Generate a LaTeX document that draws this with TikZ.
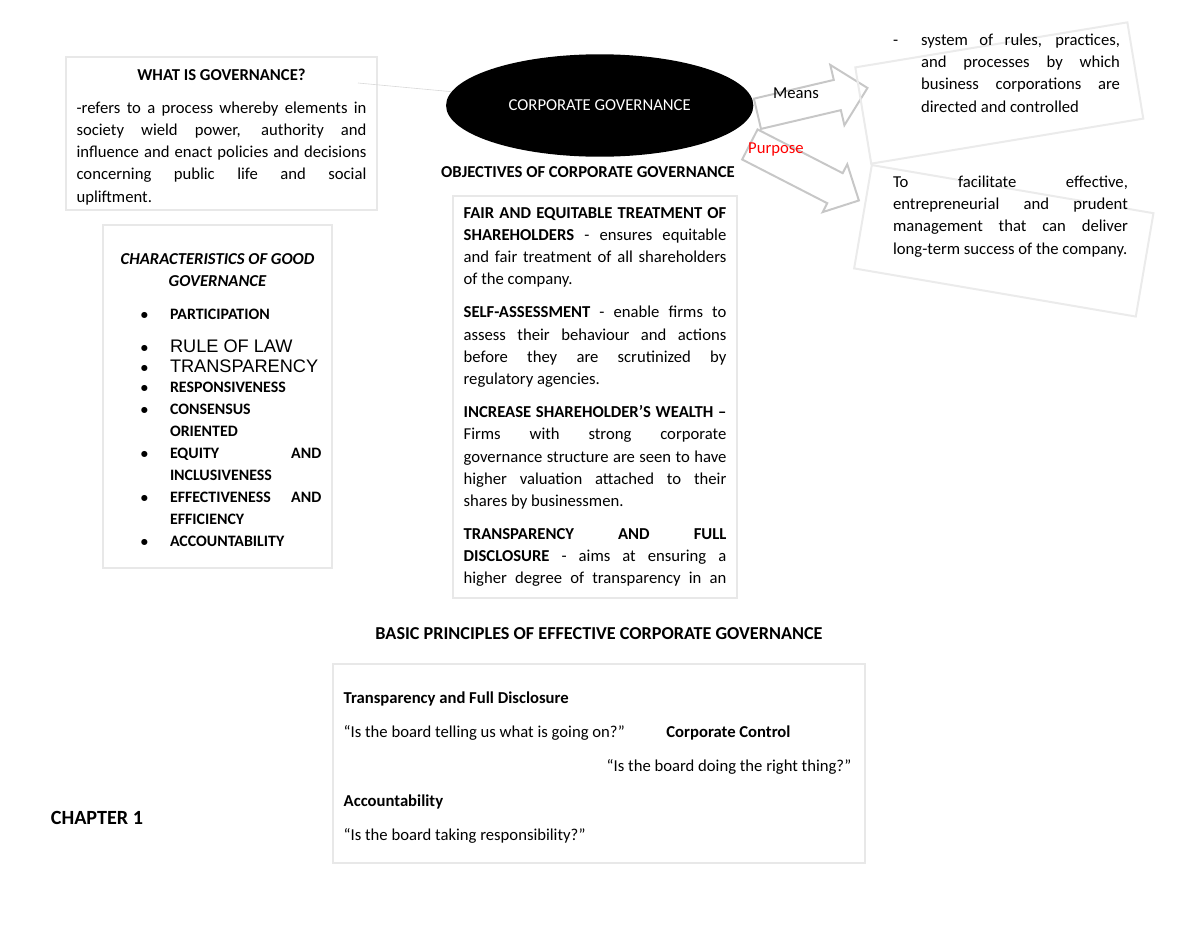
\documentclass[tikz,border=0pt]{standalone}
\usepackage{fontspec}
\setmainfont{Carlito}
\newfontfamily\arialfont{Liberation Sans}
\usetikzlibrary{shapes.geometric,shapes.arrows,positioning,calc}
\setlength{\parindent}{0pt}
\setlength{\parskip}{0pt}
\hyphenpenalty=10000
\exhyphenpenalty=10000
\hbadness=10000
\hfuzz=20pt
\tikzset{
	infobox/.style={
		rectangle, draw=black!9, line width=1.3pt, inner xsep=7pt, inner ysep=0pt,
		align=justify, font=\fontsize{11}{14.7}\selectfont
	},
	%
	tiltbox/.style={
		rectangle, draw=black!8, line width=1.3pt, inner sep=0pt
	},
	%
	tilttext/.style={
		inner sep=0pt, align=justify, font=\fontsize{11}{14.7}\selectfont
	},
	%
	blockarrow/.style={
		single arrow, draw=black!22, line width=1.3pt, fill=white,
		inner xsep=0pt, anchor=tail
	},
	%
	heading/.style={
		inner sep=0pt, font=\fontsize{11}{13}\selectfont\bfseries
	},
	%
	armtext/.style={
		inner sep=0pt, font=\fontsize{11}{13}\selectfont
	}
}
\newcommand{\chitem}{\par\noindent\llap{{\rmfamily\bfseries\fontsize{9.5}{9.5}\selectfont\textbullet}\hspace{14.5pt}}}
\newcommand{\topstrut}{\rule{0pt}{12pt}}

\begin{document}
\begin{tikzpicture}[x=0.66pt, y=-0.66pt]
    \useasboundingbox[fill=white] (0,0) rectangle (1200,927);
    % centre of the map
    \node (cg) [ellipse, fill=black, text=white, minimum width=202.8pt, minimum height=67.6pt,
        font=\fontsize{11}{13}\selectfont] at (599.7,105.5) {CORPORATE GOVERNANCE};
    \node (govbox) [infobox, text width=191.3pt, minimum height=101pt] at (221.5,133.5) {
    {\centering\bfseries\topstrut WHAT IS GOVERNANCE?\par}
    \vspace{7pt}
    -refers to a process whereby elements in\linebreak
    society wield power, authority and\linebreak
    influence and enact policies and decisions\linebreak
    concerning public life and social\linebreak
    upliftment.\par
    };
    \coordinate (govtip) at (358,83);
    \draw[black!15, thin] (govtip) -- (cg);
    \node (charbox) [infobox, text width=137.1pt, minimum height=226.4pt] at (217.5,396.5) {
    {\centering\bfseries\itshape\fontsize{11}{14.5}\selectfont\topstrut CHARACTERISTICS OF GOOD\\ GOVERNANCE\par}
    \leftskip=37.2pt
    {\fontsize{10.5}{21.8}\selectfont\bfseries\chitem PARTICIPATION\par}
    {\arialfont\fontsize{12}{21.5}\selectfont\chitem RULE OF LAW\par}
    {\arialfont\fontsize{12}{13.2}\selectfont\chitem TRANSPARENCY\par}
    {\fontsize{10.5}{13.5}\selectfont\bfseries\chitem RESPONSIVENESS\par}
    {\fontsize{10.5}{14.5}\selectfont\bfseries
    \chitem CONSENSUS\linebreak ORIENTED
    \chitem EQUITY AND\linebreak INCLUSIVENESS
    \chitem EFFECTIVENESS AND\linebreak EFFICIENCY
    \chitem ACCOUNTABILITY\par}
    };
    % objectives
    \node (objhead) [heading] at (588,172) {OBJECTIVES OF CORPORATE GOVERNANCE};
    \node (objbox) [infobox, text width=173.4pt, minimum height=265.3pt] at (595,397) {
    \parskip=7pt
    \textbf{FAIR AND EQUITABLE TREATMENT OF}\linebreak
    \textbf{SHAREHOLDERS} - ensures equitable\linebreak
    and fair treatment of all shareholders\linebreak
    of the company.\par
    \textbf{SELF-ASSESSMENT} - enable firms to\linebreak
    assess their behaviour and actions\linebreak
    before they are scrutinized by\linebreak
    regulatory agencies.\par
    \textbf{INCREASE SHAREHOLDER’S WEALTH –}\linebreak
    Firms with strong corporate\linebreak
    governance structure are seen to have\linebreak
    higher valuation attached to their\linebreak
    shares by businessmen.\par
    {\parfillskip=0pt \textbf{TRANSPARENCY AND FULL}\linebreak
    \textbf{DISCLOSURE} - aims at ensuring a\linebreak
    higher degree of transparency in an\par}
    };
    % means and purpose
    \node (meansarrow) [blockarrow, rotate=13.2, minimum height=74.6pt, inner ysep=9.6pt,
        single arrow head extend=10.2pt] at (756.5,114) {};
    \node (purposearrow) [blockarrow, rotate=-27.2, minimum height=80.9pt, inner ysep=10.5pt,
        single arrow head extend=6.6pt] at (749,144) {};
    \node (means) [armtext] at (796,93) {Means};
    \node (purpose) [armtext, text=red] at (776,149) {Purpose};
    \node (meansbox) [tiltbox, rotate=9.4, minimum width=182pt, minimum height=64.4pt] at (999.3,93) {};
    \node (purposebox) [tiltbox, rotate=-9.7, minimum width=188.6pt, minimum height=69.2pt] at (1003.8,240.8) {};
    \node (meanstext) [tilttext, text width=149.8pt] at (1006.5,73) {
    \leftskip=18.5pt
    \noindent\llap{\makebox[18.5pt][l]{-}}system of rules, practices,\linebreak
    and processes by which\linebreak
    business corporations are\linebreak
    directed and controlled\par
    };
    \node (purposetext) [tilttext, text width=155pt] at (1010.5,216.5) {
    To facilitate effective,\linebreak
    entrepreneurial and prudent\linebreak
    management that can deliver\linebreak
    long-term success of the company.\par
    };
    % principles
    \node (principles) [infobox, text width=337pt, minimum height=131.3pt,
        font=\fontsize{11}{22.7}\selectfont] at (599,763.5) {
    \rule{0pt}{13pt}\textbf{Transparency and Full Disclosure}\\
    \makebox[213pt][l]{“Is the board telling us what is going on?”}\textbf{Corporate Control}\\
    \hspace*{173.6pt}\makebox[0pt][l]{“Is the board doing the right thing?”}\\
    \textbf{Accountability}\\
    “Is the board taking responsibility?”
    };
    \node (basichead) [heading, font=\fontsize{12}{14}\selectfont\bfseries, above=15pt of principles]
        {BASIC PRINCIPLES OF EFFECTIVE CORPORATE GOVERNANCE};
    \node (chapter) [heading, font=\fontsize{13.3}{15}\selectfont\bfseries] at (97,818) {CHAPTER 1};
\end{tikzpicture}
\end{document}
